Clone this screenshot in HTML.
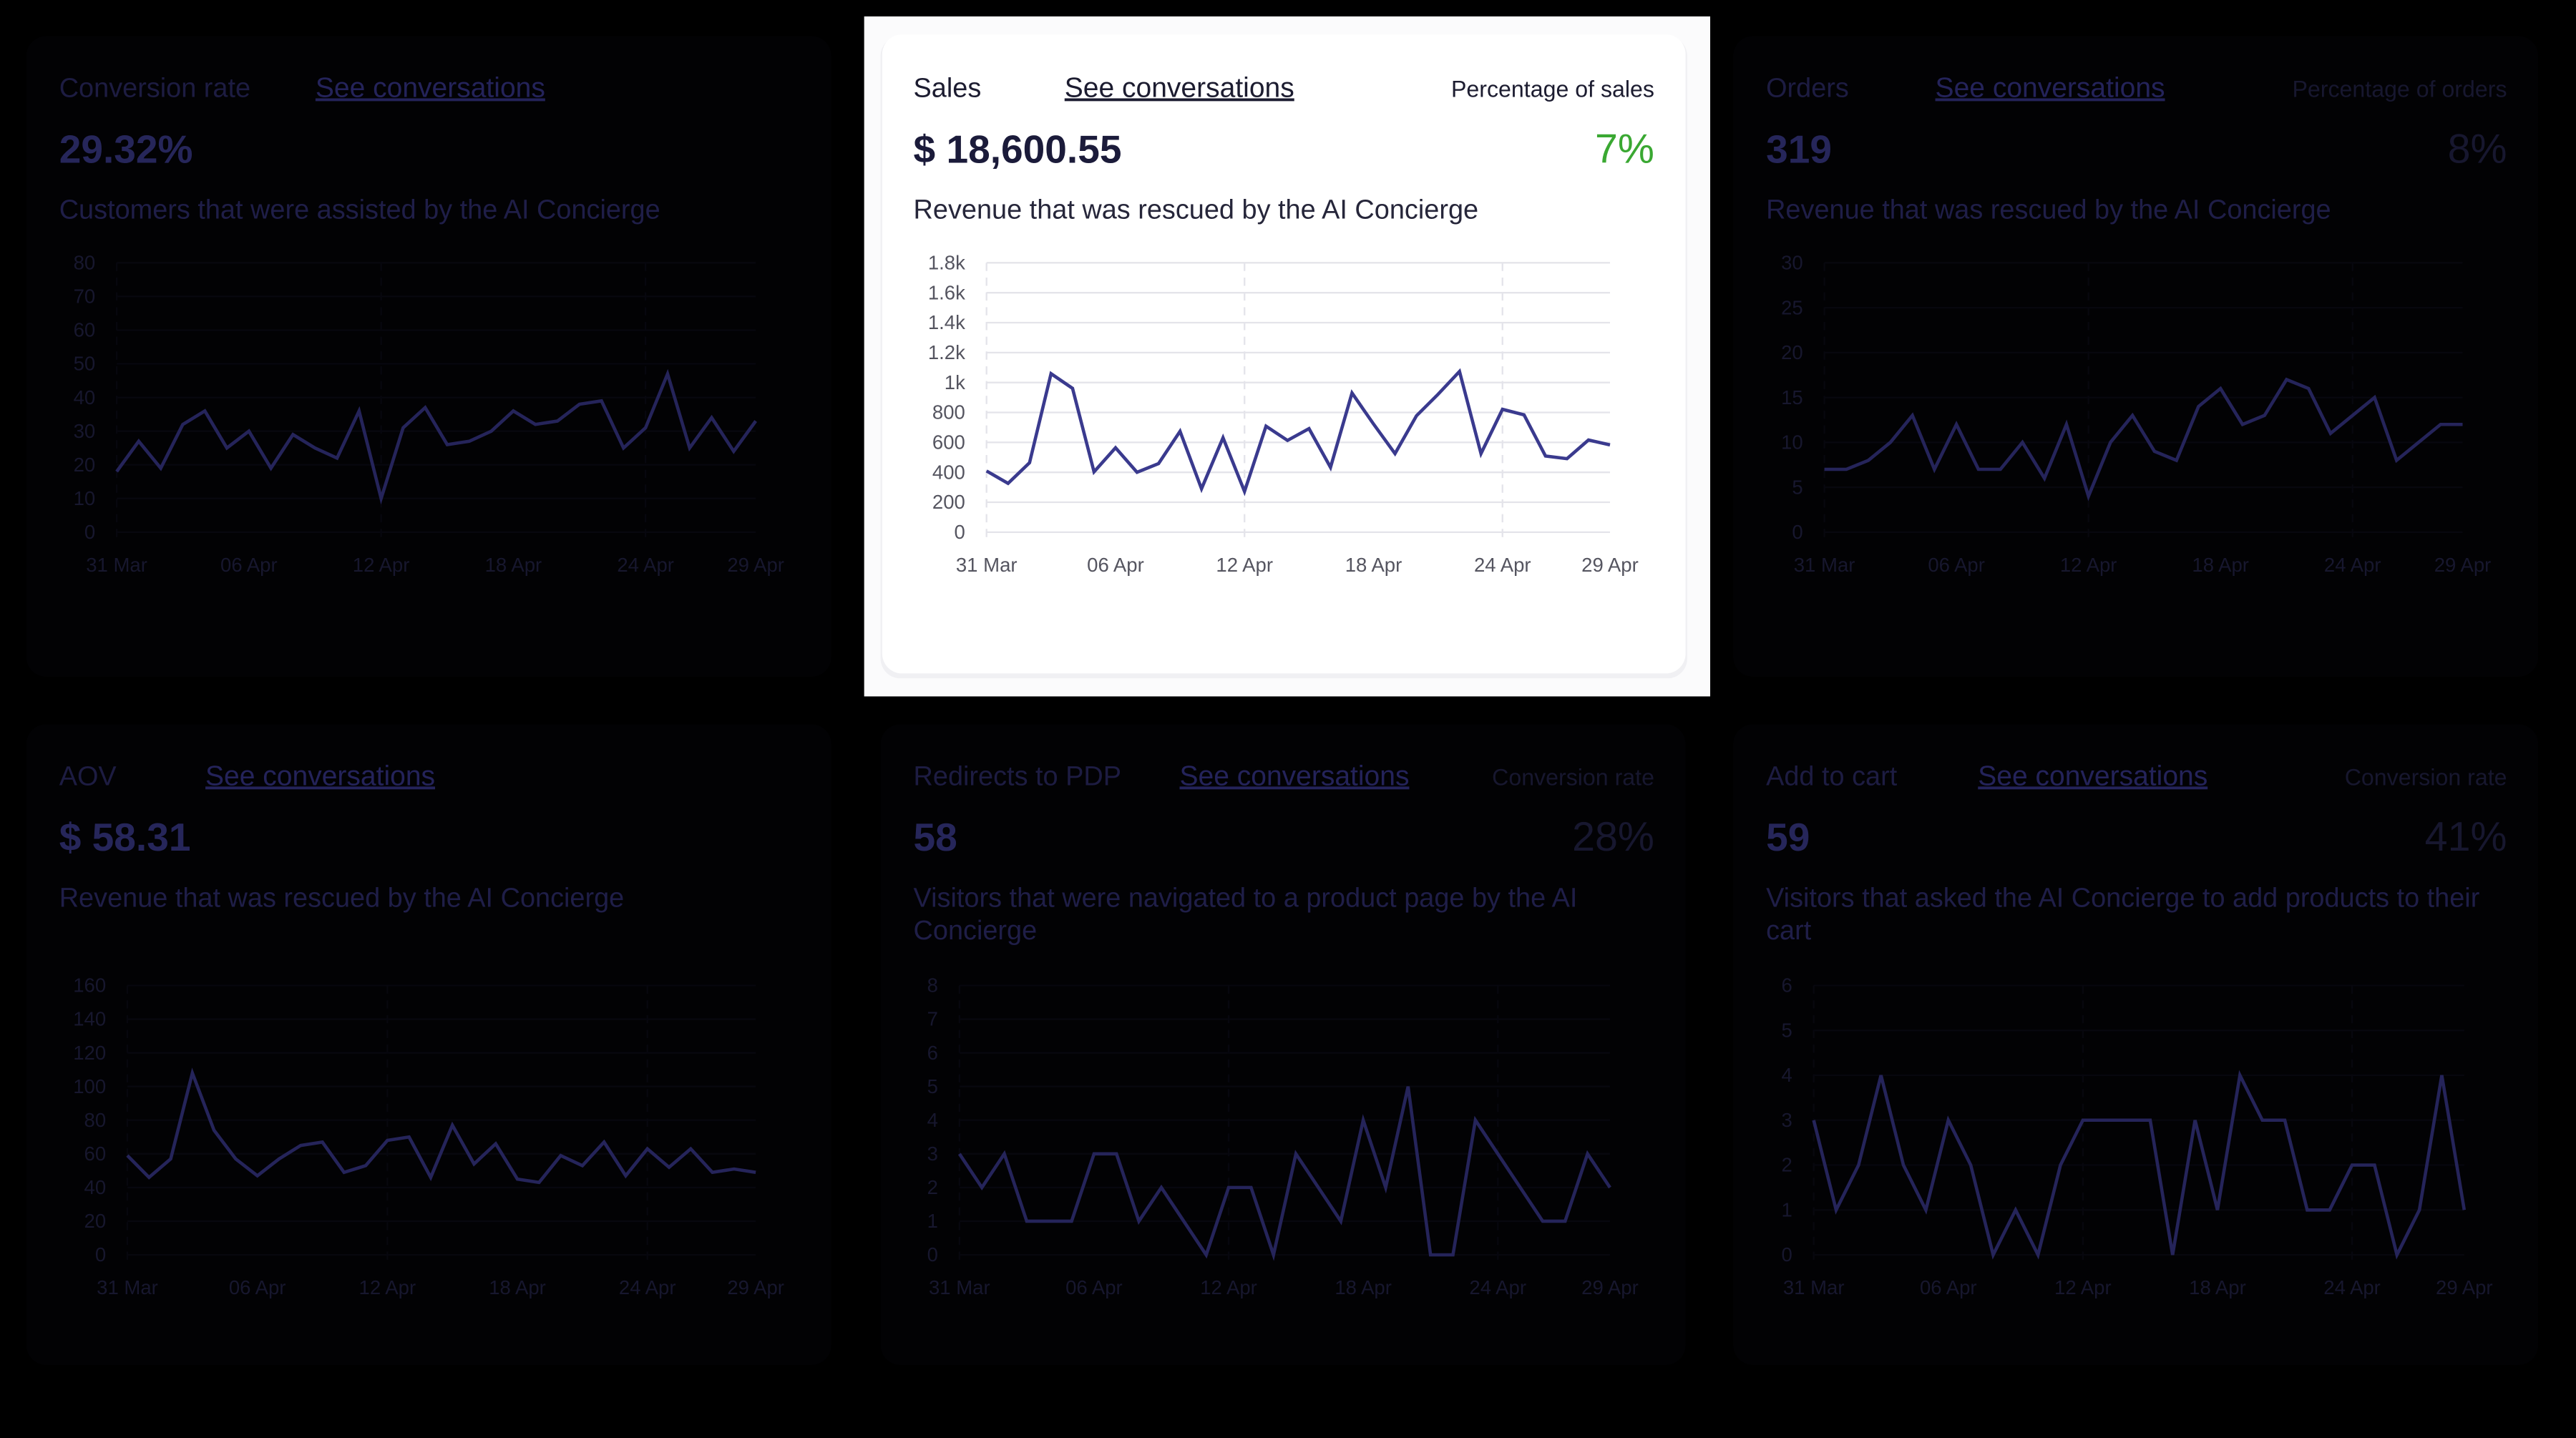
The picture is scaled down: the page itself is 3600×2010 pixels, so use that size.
<!DOCTYPE html>
<html><head><meta charset="utf-8">
<style>
html,body{margin:0;padding:0;background:#000;}
svg{display:block;font-family:"Liberation Sans",Arial,sans-serif;}
</style></head>
<body>
<svg id="root" width="3600" height="2010" viewBox="0 0 1568 875.5" xmlns="http://www.w3.org/2000/svg">
<rect x="0" y="0" width="1568" height="876" fill="#000"/>
<g id="cards"></g>
</svg>
<script>
const xLabels = ["31 Mar","06 Apr","12 Apr","18 Apr","24 Apr","29 Apr"];
const xLabelDays = [0,6,12,18,24,29];
const conversionValues = [18,27,19,32,36,25,30,19,29,25,22,36,10,31,37,26,27,30,36,32,33,38,39,25,31,47,25,34,24,33];
const salesValues = [409,326,464,1059,961,403,564,400,458,674,290,631,272,708,613,692,433,930,723,525,778,921,1074,525,821,784,509,491,616,583];
const ordersValues = [7,7,8,10,13,7,12,7,7,10,6,12,4,10,13,9,8,14,16,12,13,17,16,11,13,15,8,10,12,12];
const aovValues = [59,46,57,108,74,57,47,57,65,67,49,53,68,70,46,77,54,66,45,43,59,53,67,47,63,52,63,49,51,49];
const redirectValues = [3,2,3,1,1,1,3,3,1,2,1,0,2,2,0,3,2,1,4,2,5,0,0,4,3,2,1,1,3,2];
const cartValues = [3,1,2,4,2,1,3,2,0,1,0,2,3,3,3,3,0,3,1,4,3,3,1,1,2,2,0,1,4,1];
const conversionTicks = [0,10,20,30,40,50,60,70,80];
const salesTicks = [0,200,400,600,800,1000,1200,1400,1600,1800];
const salesTickLabels = ["0","200","400","600","800","1k","1.2k","1.4k","1.6k","1.8k"];
const ordersTicks = [0,5,10,15,20,25,30];
const aovTicks = [0,20,40,60,80,100,120,140,160];
const redirectTicks = [0,1,2,3,4,5,6,7,8];
const cartTicks = [0,1,2,3,4,5,6];

const NS="http://www.w3.org/2000/svg";
const root=document.getElementById('cards');
function mk(tag,attrs,parent,text){const e=document.createElementNS(NS,tag);for(const k in attrs)e.setAttribute(k,attrs[k]);if(text!==undefined)e.textContent=text;(parent||root).appendChild(e);return e;}

const DARK={title:"#1d1c42",link:"#24235a",value:"#26265a",right:"#17172f",desc:"#1f1e48",tick:"#17172e",grid:"#07070e",line:"#25245a",bg:"#020204"};
const LIGHT={title:"#1c1c30",link:"#1c1c30",value:"#1b1b3a",right:"#3aa832",desc:"#26263a",tick:"#555560",grid:"#e4e4ea",line:"#3a3a8e",bg:"#fff"};

const cards=[
 {name:"conversion-rate",x:36,top:53,title:"Conversion rate",linkX:192,right:null,value:"29.32%",desc:["Customers that were assisted by the AI Concierge"],vals:conversionValues,ticks:conversionTicks,tl:null,max:80,x0:71,x1:460,y0:324,y1:160,pal:DARK},
 {name:"sales",x:556,top:53,title:"Sales",linkX:648,right:"Percentage of sales",rv:"7%",value:"$ 18,600.55",desc:["Revenue that was rescued by the AI Concierge"],vals:salesValues,ticks:salesTicks,tl:salesTickLabels,max:1800,x0:600.5,x1:980,y0:324,y1:160,pal:LIGHT},
 {name:"orders",x:1075,top:53,title:"Orders",linkX:1178,right:"Percentage of orders",rv:"8%",value:"319",desc:["Revenue that was rescued by the AI Concierge"],vals:ordersValues,ticks:ordersTicks,tl:null,max:30,x0:1110.5,x1:1499,y0:324,y1:160,pal:DARK},
 {name:"aov",x:36,top:472,title:"AOV",linkX:125,right:null,value:"$ 58.31",desc:["Revenue that was rescued by the AI Concierge"],vals:aovValues,ticks:aovTicks,tl:null,max:160,x0:77.5,x1:460,y0:764,y1:600,pal:DARK},
 {name:"redirects-to-pdp",x:556,top:472,title:"Redirects to PDP",linkX:718,right:"Conversion rate",rv:"28%",value:"58",desc:["Visitors that were navigated to a product page by the AI","Concierge"],vals:redirectValues,ticks:redirectTicks,tl:null,max:8,x0:584,x1:980,y0:764,y1:600,pal:DARK},
 {name:"add-to-cart",x:1075,top:472,title:"Add to cart",linkX:1204,right:"Conversion rate",rv:"41%",value:"59",desc:["Visitors that asked the AI Concierge to add products to their","cart"],vals:cartValues,ticks:cartTicks,tl:null,max:6,x0:1104,x1:1500,y0:764,y1:600,pal:DARK}
];

const frame=mk('rect',{x:526,y:10,width:515,height:414,fill:"#fbfbfc"});


const sh=mk('rect',{x:536,y:22,width:491,height:391,rx:12,fill:"#f0f0f3"});


const inner=mk('rect',{x:537,y:21,width:489,height:389,rx:12,fill:"#ffffff"});



cards.forEach(c=>{
 const p=c.pal;
 const g=mk('g',{});
 
 
 if(p===DARK){
  const bg=mk('rect',{x:c.x-20,y:c.top-31,width:490,height:390,rx:12,fill:p.bg},g);
  
  
 }
 const t=mk('text',{x:c.x,y:c.top+6,'font-size':16.5,fill:p.title},g,c.title);
 
 
 const l=mk('text',{x:c.linkX,y:c.top+6,'font-size':17,fill:p.link,'text-decoration':'underline'},g,"See conversations");
 
 
 if(c.right){
  const r=mk('text',{x:1007+(c.x-556),y:c.top+6,'font-size':14,fill:p===LIGHT?"#1c1c30":p.right,'text-anchor':'end'},g,c.right);
  
  
  const rv=mk('text',{x:1007+(c.x-556),y:c.top+46,'font-size':25,fill:p.right,'text-anchor':'end'},g,c.rv);
  
  
 }
 const v=mk('text',{x:c.x,y:c.top+46,'font-size':24,'font-weight':'bold',fill:p.value},g,c.value);
 
 
 c.desc.forEach((d,i)=>{
  const de=mk('text',{x:c.x,y:c.top+80+i*20,'font-size':16.5,fill:p.desc},g,d);
  
  
 });
 const n=c.vals.length;
 const sx=i=>c.x0+(c.x1-c.x0)*i/(n-1);
 const sy=v=>c.y0-(c.y0-c.y1)*v/c.max;
 const ch=mk('g',{},g);
 
 
 c.ticks.forEach((tv,i)=>{
  const gl=mk('line',{x1:c.x0,x2:c.x1,y1:sy(tv),y2:sy(tv),stroke:p.grid,'stroke-width':1},ch);
  
  
  const lab=mk('text',{x:c.x0-13,y:sy(tv)+4,'font-size':12,fill:p.tick,'text-anchor':'end'},ch,c.tl?c.tl[i]:String(tv));
  
  
 });
 [0,12,24].forEach(d=>{
  const vl=mk('line',{x1:sx(d),x2:sx(d),y1:c.y1,y2:c.y0+6,stroke:p.grid,'stroke-width':1,'stroke-dasharray':'5 4'},ch);
  
  
 });
 xLabels.forEach((lb,i)=>{
  const xl=mk('text',{x:sx(xLabelDays[i]),y:c.y0+24,'font-size':12,fill:p.tick,'text-anchor':'middle'},ch,lb);
  
  
 });
 const pts=c.vals.map((v,i)=>sx(i).toFixed(2)+','+sy(v).toFixed(2)).join(' ');
 const pl=mk('polyline',{points:pts,fill:'none',stroke:p.line,'stroke-width':2,'stroke-linejoin':'miter'},ch);
 
 
});
</script>
</body></html>
